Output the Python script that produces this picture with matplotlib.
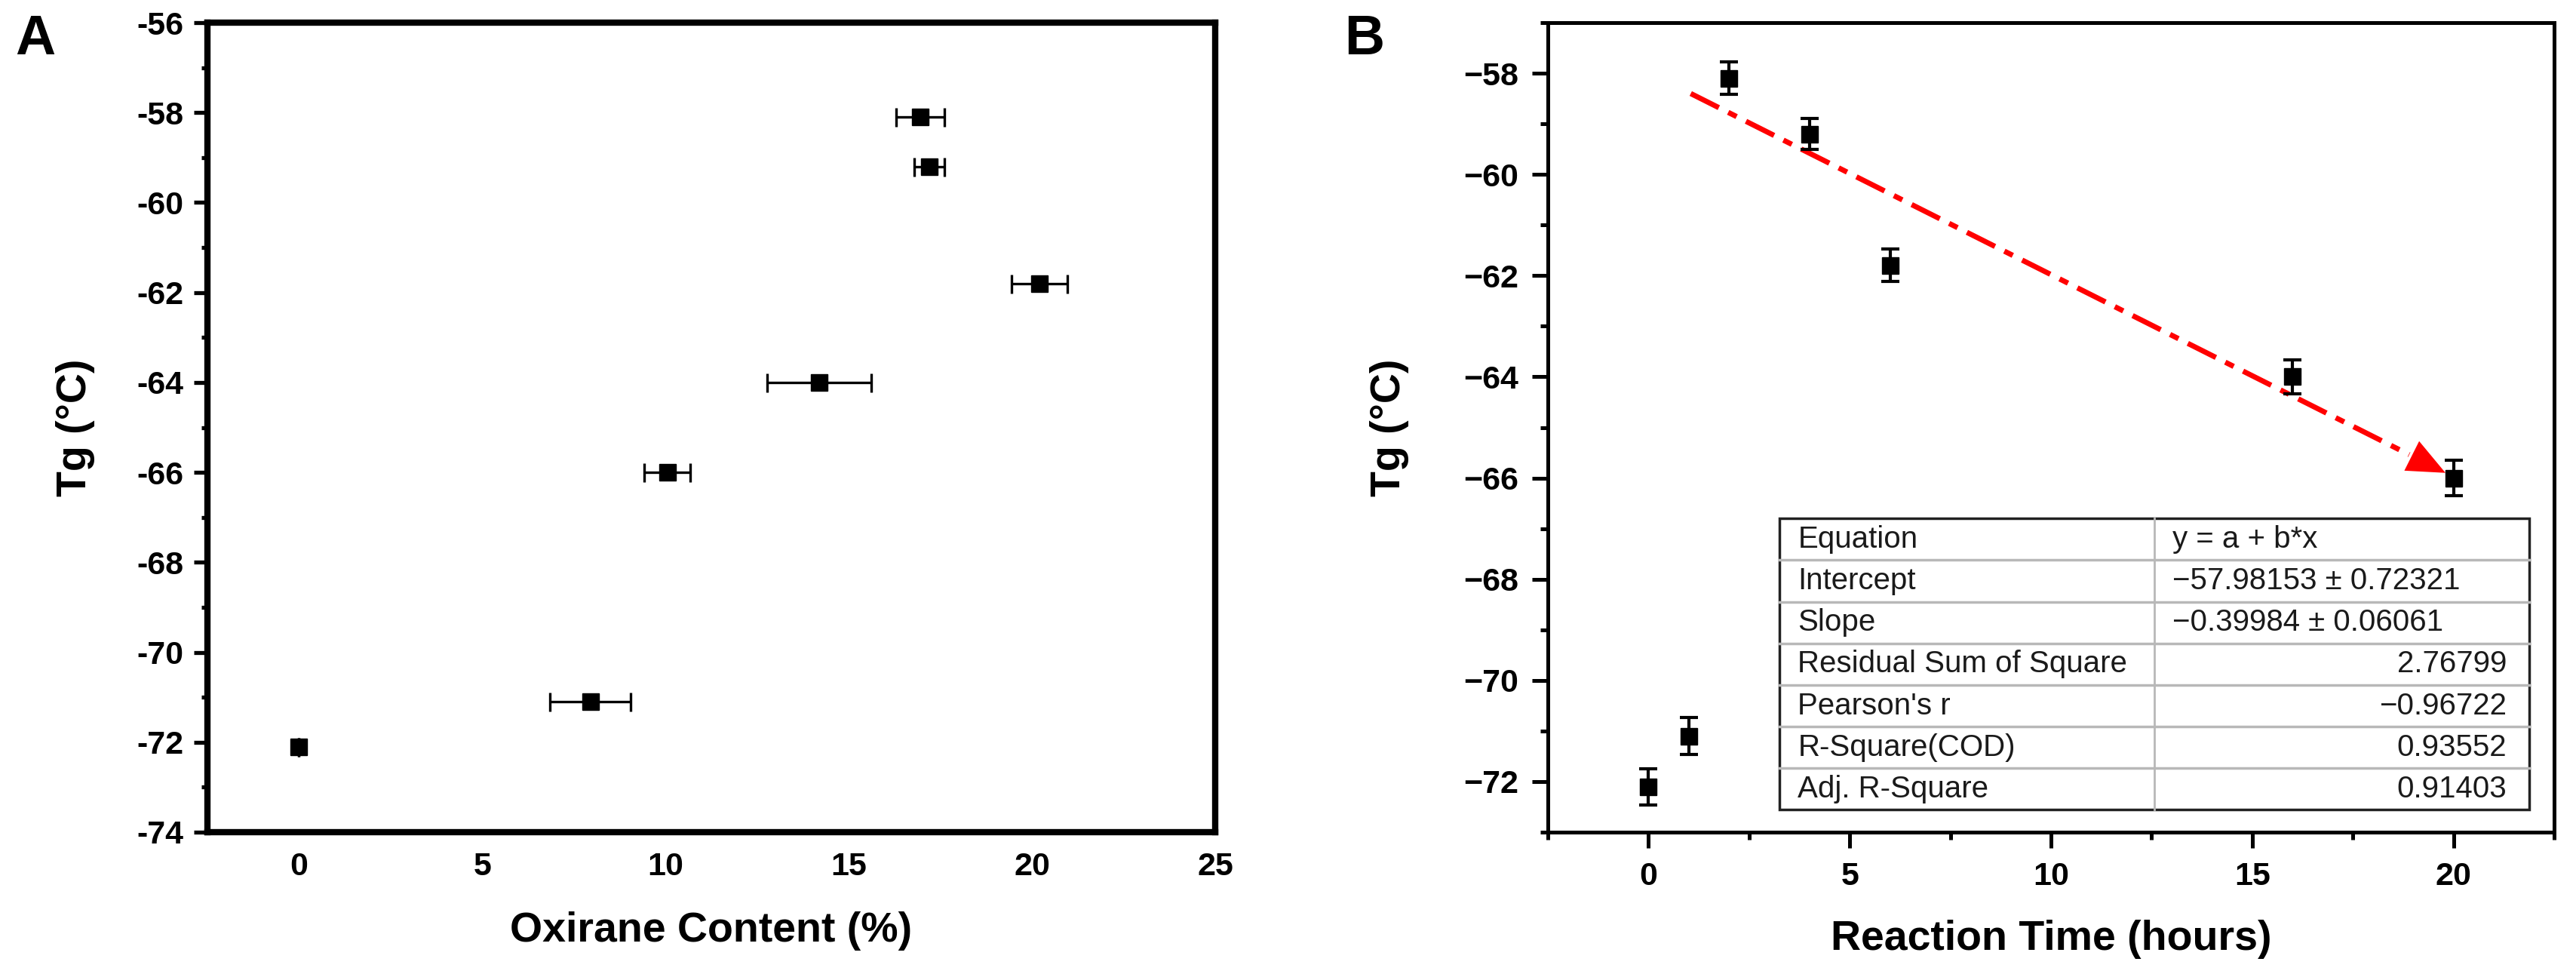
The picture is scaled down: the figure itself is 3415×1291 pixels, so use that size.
import matplotlib.pyplot as plt
from matplotlib.patches import Rectangle
from matplotlib.ticker import MultipleLocator, FuncFormatter

plt.rcParams['font.family'] = ['Liberation Sans', 'DejaVu Sans']

# panel A: Tg vs oxirane content
oxirane = [0.0, 7.95, 10.05, 14.2, 16.95, 17.2, 20.2]
oxirane_err = [0.0, 1.1, 0.63, 1.42, 0.66, 0.42, 0.76]
tg_a = [-72.1, -71.1, -66.0, -64.0, -58.1, -59.2, -61.8]

# panel B: Tg vs reaction time
hours = [0, 1, 2, 4, 6, 16, 20]
tg_b = [-72.1, -71.1, -58.1, -59.2, -61.8, -64.0, -66.0]
tg_b_err = [0.36, 0.37, 0.32, 0.31, 0.32, 0.33, 0.35]

intercept = -57.98153
slope = -0.39984
fit_start, fit_end = 1.05, 19.8

table_labels = ["Equation", "Intercept", "Slope", "Residual Sum of Square",
                "Pearson's r", "R-Square(COD)", "Adj. R-Square"]
table_values = ["y = a + b*x", "\u221257.98153 \u00b1 0.72321", "\u22120.39984 \u00b1 0.06061",
                "2.76799", "\u22120.96722", "0.93552", "0.91403"]
value_left = [True, True, True, False, False, False, False]

W, H = 3415, 1291
fig = plt.figure(figsize=(W / 100, H / 100), dpi=100)
bottom = 1 - 1103 / H
height = (1103 - 30) / H
axA = fig.add_axes([275 / W, bottom, (1611 - 275) / W, height])
axB = fig.add_axes([2052 / W, bottom, (3386 - 2052) / W, height])

label_font = dict(fontsize=40, fontweight='bold')

# ---- A ----
axA.errorbar(oxirane, tg_a, xerr=oxirane_err, fmt='s', color='black', ms=16.5,
             elinewidth=2.4, capsize=9, capthick=2.4, zorder=3)
axA.set_xlim(-2.5, 25)
axA.set_ylim(-74, -56)
axA.xaxis.set_major_locator(MultipleLocator(5))
axA.yaxis.set_major_locator(MultipleLocator(2))
axA.yaxis.set_minor_locator(MultipleLocator(1))
axA.yaxis.set_major_formatter(FuncFormatter(lambda v, p: f"{v:.0f}"))
for s in axA.spines.values():
    s.set_linewidth(6)
axA.tick_params(axis='y', which='major', direction='out', length=13, width=3.8, pad=10)
axA.tick_params(axis='y', which='minor', direction='out', length=6, width=3.8)
axA.tick_params(axis='x', which='both', length=0, pad=19)
for lbl in axA.get_xticklabels() + axA.get_yticklabels():
    lbl.set_fontsize(31)
    lbl.set_fontweight('bold')
axA.set_xlabel("Oxirane Content (%)", va='center', **label_font)
axA.set_ylabel("Tg (\u00b0C)", va='center', **label_font)
axA.xaxis.set_label_coords(0.5, -(1234 - 1103) / 1073)
axA.yaxis.set_label_coords((100 - 275) / 1336, 0.5)

# ---- B ----
axB.errorbar(hours, tg_b, yerr=tg_b_err, fmt='s', color='black', ms=16,
             elinewidth=3, capsize=8.5, capthick=3, zorder=3)
xs = [fit_start, fit_end - 0.9]
axB.plot(xs, [intercept + slope * x for x in xs], color='red', lw=5,
         dashes=(6, 2, 1.8, 2), solid_capstyle='butt', zorder=2)
axB.annotate("", xy=(fit_end, intercept + slope * fit_end),
             xytext=(fit_end - 0.95, intercept + slope * (fit_end - 0.95)),
             arrowprops=dict(arrowstyle='-|>,head_length=2.4,head_width=1.05',
                             mutation_scale=15, color='red', lw=0,
                             shrinkA=0, shrinkB=0), zorder=2)
axB.set_xlim(-2.5, 22.5)
axB.set_ylim(-73, -57)
axB.xaxis.set_major_locator(MultipleLocator(5))
axB.xaxis.set_minor_locator(MultipleLocator(2.5))
axB.yaxis.set_major_locator(MultipleLocator(2))
axB.yaxis.set_minor_locator(MultipleLocator(1))
axB.yaxis.set_major_formatter(FuncFormatter(lambda v, p: f"{v:.0f}".replace("-", "\u2212")))
for s in axB.spines.values():
    s.set_linewidth(3.6)
axB.tick_params(which='major', direction='out', length=15, width=3.6, pad=13)
axB.tick_params(which='minor', direction='out', length=7, width=3.6)
for lbl in axB.get_xticklabels() + axB.get_yticklabels():
    lbl.set_fontsize(31)
    lbl.set_fontweight('bold')
axB.set_xlabel("Reaction Time (hours)", va='center', **label_font)
axB.set_ylabel("Tg (\u00b0C)", va='center', **label_font)
axB.xaxis.set_label_coords(0.5, -(1245 - 1103) / 1073)
axB.yaxis.set_label_coords((1842 - 2052) / 1334, 0.5)

# fit summary table (axes fraction)
tx0, tx1, ty0, ty1 = 0.2304, 0.975, 0.0275, 0.3875
txm = (tx0 + tx1) / 2
row_h = (ty1 - ty0) / len(table_labels)
for i, (lab, val) in enumerate(zip(table_labels, table_values)):
    yc = ty1 - (i + 0.5) * row_h
    if i > 0:
        axB.plot([tx0, tx1], [ty1 - i * row_h] * 2, color='#b8b8b8', lw=2.5,
                 transform=axB.transAxes, zorder=4)
    axB.text(tx0 + 0.018, yc, lab, transform=axB.transAxes, fontsize=29,
             va='center', ha='left', color='#1a1a1a', zorder=5)
    if value_left[i]:
        axB.text(txm + 0.018, yc, val, transform=axB.transAxes, fontsize=29,
                 va='center', ha='left', color='#1a1a1a', zorder=5)
    else:
        axB.text(tx1 - 0.022, yc, val, transform=axB.transAxes, fontsize=29,
                 va='center', ha='right', color='#1a1a1a', zorder=5)
axB.plot([txm, txm], [ty0, ty1], color='#b8b8b8', lw=2, transform=axB.transAxes, zorder=4)
axB.add_patch(Rectangle((tx0, ty0), tx1 - tx0, ty1 - ty0, transform=axB.transAxes,
                        fill=True, facecolor='white', edgecolor='#222222', lw=2.5, zorder=3.5))

fig.text(20 / W, 1 - 18 / H, "A", fontsize=53, fontweight='bold', va='top', ha='left')
fig.text(1782 / W, 1 - 18 / H, "B", fontsize=53, fontweight='bold', va='top', ha='left')

fig.savefig("out.png", dpi=100)
